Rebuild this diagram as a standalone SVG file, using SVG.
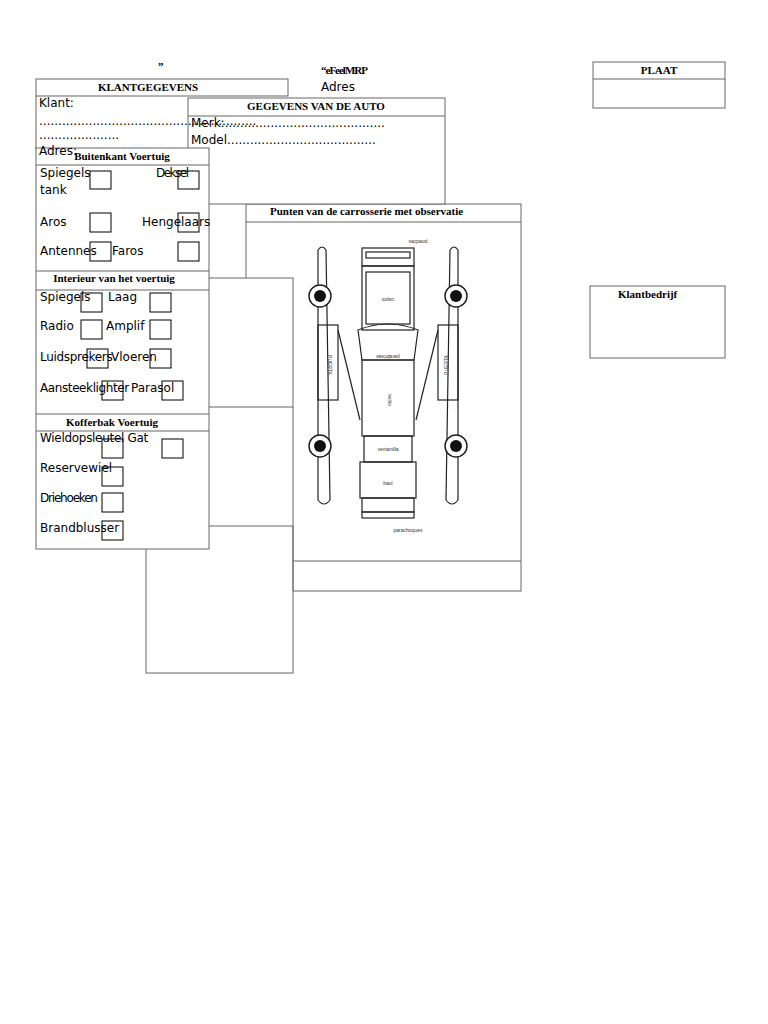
<svg xmlns="http://www.w3.org/2000/svg" width="768" height="1024" viewBox="0 0 768 1024">
<style>
.b{fill:#fff;stroke:#666;stroke-width:1}
.h{font-family:"Liberation Serif",serif;font-weight:bold;font-size:11px;fill:#000}
.t{font-family:"DejaVu Sans",sans-serif;font-size:12px;fill:#000}
.ck{fill:none;stroke:#000;stroke-width:1}
.c{fill:none;stroke:#222;stroke-width:1.2}
.s{font-family:"Liberation Sans",sans-serif;font-size:5px;fill:#333}
</style>
<rect width="768" height="1024" fill="#fff"/>
<text class="h" x="158" y="70" font-size="15">”</text>
<text class="h" x="321" y="74" font-size="14" letter-spacing="-1">“eFeelMRP</text>
<text class="t" x="321" y="91">Adres</text>
<g id="plaat"><rect class="b" x="593" y="62" width="132" height="46"/><line class="b" x1="593" y1="79" x2="725" y2="79"/><text class="h" x="659" y="74" text-anchor="middle">PLAAT</text></g>
<g id="klantbedrijf"><rect class="b" x="590" y="286" width="135" height="72"/><text class="h" x="618" y="298">Klantbedrijf</text></g>
<g id="punten"><rect class="b" x="246" y="204" width="275" height="387"/><line class="b" x1="246" y1="222" x2="521" y2="222"/><line class="b" x1="293" y1="561" x2="521" y2="561"/>
<text class="h" x="270" y="215">Punten van de carrosserie met observatie</text>
<g id="auto-tekening">
<rect class="c" x="362" y="248" width="52" height="18"/><rect class="c" x="366" y="252" width="44" height="6"/>
<rect class="c" x="362" y="266" width="52" height="64"/><rect class="c" x="366" y="272" width="44" height="52"/>
<path class="c" d="M358 330 Q388 318 418 330 L414 360 L362 360 Z"/>
<rect class="c" x="362" y="360" width="52" height="76"/>
<rect class="c" x="364" y="436" width="48" height="26"/><rect class="c" x="360" y="462" width="56" height="36"/>
<rect class="c" x="362" y="498" width="52" height="14"/><rect class="c" x="362" y="512" width="52" height="6"/>
<path class="c" d="M318 250 Q322 244 326 250 L330 500 Q324 508 318 500 Z"/>
<rect class="c" x="318" y="325" width="20" height="75"/>
<path class="c" d="M458 250 Q454 244 450 250 L446 500 Q452 508 458 500 Z"/>
<rect class="c" x="438" y="325" width="20" height="75"/>
<line class="c" x1="338" y1="330" x2="360" y2="420"/><line class="c" x1="438" y1="330" x2="416" y2="420"/>
<g fill="#fff" stroke="#222" stroke-width="1.5">
<circle cx="320" cy="296" r="11"/><circle cx="456" cy="296" r="11"/><circle cx="320" cy="446" r="11"/><circle cx="456" cy="446" r="11"/></g>
<g fill="#111"><circle cx="320" cy="296" r="6"/><circle cx="456" cy="296" r="6"/><circle cx="320" cy="446" r="6"/><circle cx="456" cy="446" r="6"/></g>
<text class="s" x="418" y="243" text-anchor="middle">sacpaod</text>
<text class="s" x="388" y="298" text-anchor="middle" transform="rotate(180 388 298)">capot</text>
<text class="s" x="388" y="355" text-anchor="middle" transform="rotate(180 388 355)">parabrisas</text>
<text class="s" x="388" y="400" text-anchor="middle" transform="rotate(90 388 400)">techo</text>
<text class="s" x="388" y="451" text-anchor="middle">ventanilla</text>
<text class="s" x="388" y="485" text-anchor="middle">baul</text>
<text class="s" x="408" y="532" text-anchor="middle">parachoques</text>
<text class="s" x="328" y="365" transform="rotate(90 328 365)" text-anchor="middle">PUERTA</text>
<text class="s" x="448" y="365" transform="rotate(-90 448 365)" text-anchor="middle">PUERTA</text>
</g></g>
<g id="leeg"><rect class="b" x="146" y="278" width="147" height="395"/><line class="b" x1="146" y1="407" x2="293" y2="407"/><line class="b" x1="146" y1="526" x2="293" y2="526"/><line class="b" x1="293" y1="526" x2="293" y2="591"/></g>
<g id="auto"><rect class="b" x="188" y="98" width="257" height="106"/><line class="b" x1="188" y1="116" x2="445" y2="116"/><text class="h" x="316" y="110" text-anchor="middle">GEGEVENS VAN DE AUTO</text>
<text class="t" x="191" y="127">Merk:..........................................</text><text class="t" x="191" y="144">Model.......................................</text></g>
<g id="klant"><rect class="b" x="36" y="79" width="252" height="17"/><line class="b" x1="36" y1="96" x2="36" y2="150"/><text class="h" x="148" y="91" text-anchor="middle">KLANTGEGEVENS</text></g>
<g id="buitenkant"><rect class="b" x="36" y="148" width="173" height="401"/>
<line class="b" x1="36" y1="165" x2="209" y2="165"/><text class="h" x="122" y="160" text-anchor="middle">Buitenkant Voertuig</text>
<text class="t" x="40" y="177">Spiegels</text><text class="t" x="40" y="194">tank</text><text class="t" x="156" y="177" letter-spacing="-1.5">Deksel</text>
<rect class="ck" x="90" y="171" width="21" height="18"/><rect class="ck" x="178" y="171" width="21" height="18"/>
<text class="t" x="40" y="226">Aros</text><text class="t" x="142" y="226">Hengelaars</text>
<rect class="ck" x="90" y="213" width="21" height="19"/><rect class="ck" x="178" y="213" width="21" height="19"/>
<text class="t" x="40" y="255">Antennes</text><text class="t" x="112" y="255">Faros</text>
<rect class="ck" x="90" y="242" width="21" height="19"/><rect class="ck" x="178" y="242" width="21" height="19"/>
<line class="b" x1="36" y1="271" x2="209" y2="271"/><line class="b" x1="36" y1="290" x2="209" y2="290"/>
<text class="h" x="114" y="282" text-anchor="middle" font-size="10">Interieur van het voertuig</text>
<text class="t" x="40" y="301">Spiegels</text><text class="t" x="108" y="301">Laag</text>
<rect class="ck" x="81" y="293" width="21" height="19"/><rect class="ck" x="150" y="293" width="21" height="19"/>
<text class="t" x="40" y="330">Radio</text><text class="t" x="106" y="330">Amplif</text>
<rect class="ck" x="81" y="320" width="21" height="19"/><rect class="ck" x="150" y="320" width="21" height="19"/>
<text class="t" x="40" y="361" font-size="11" letter-spacing="-0.3">Luidsprekers</text><text class="t" x="111" y="361" font-size="11">Vloeren</text>
<rect class="ck" x="87" y="349" width="21" height="19"/><rect class="ck" x="150" y="349" width="21" height="19"/>
<text class="t" x="40" y="392" font-size="11" letter-spacing="-0.4">Aansteeklighter</text><text class="t" x="131" y="392" font-size="11">Parasol</text>
<rect class="ck" x="102" y="381" width="21" height="19"/><rect class="ck" x="162" y="381" width="21" height="19"/>
<line class="b" x1="36" y1="414" x2="209" y2="414"/><line class="b" x1="36" y1="431" x2="209" y2="431"/>
<text class="h" x="112" y="426" text-anchor="middle">Kofferbak Voertuig</text>
<text class="t" x="40" y="442" font-size="10.5" letter-spacing="-0.3">Wieldopsleutel Gat</text>
<rect class="ck" x="102" y="439" width="21" height="19"/><rect class="ck" x="162" y="439" width="21" height="19"/>
<text class="t" x="40" y="472">Reservewiel</text><rect class="ck" x="102" y="467" width="21" height="19"/>
<text class="t" x="40" y="502" letter-spacing="-1.2" font-size="10.5">Driehoeken</text><rect class="ck" x="102" y="493" width="21" height="19"/>
<text class="t" x="40" y="532">Brandblusser</text><rect class="ck" x="102" y="521" width="21" height="19"/>
</g>
<g id="klant-tekst">
<text class="t" x="39" y="107">Klant:</text><text class="t" x="39" y="125" font-size="11">.........................................................</text><text class="t" x="39" y="139" font-size="11">.....................</text><text class="t" x="39" y="155">Adres:</text></g>
</svg>
